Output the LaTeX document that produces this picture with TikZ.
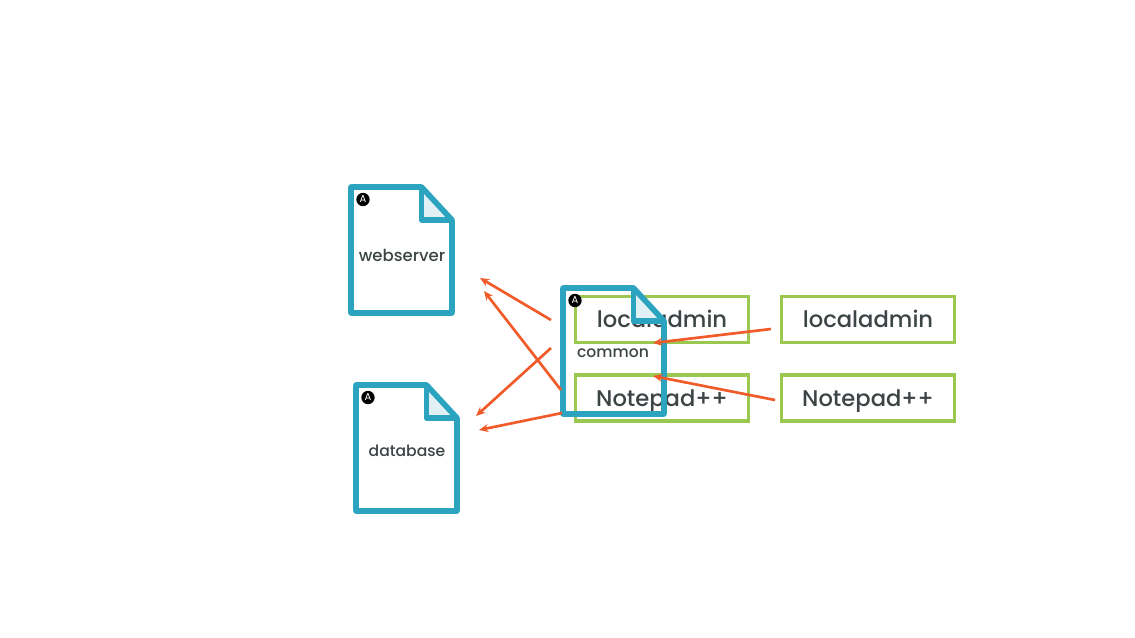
\documentclass[tikz,border=0pt]{standalone}
\usepackage{fontspec}
\setmainfont{Poppins Medium}
\newfontfamily\markfont{Poppins}
\usetikzlibrary{positioning,arrows.meta}
\definecolor{docblue}{HTML}{2CA3BF}
\definecolor{foldblue}{HTML}{E0F0F5}
\definecolor{taskgreen}{HTML}{9BC850}
\definecolor{linkorange}{HTML}{F15A29}
\definecolor{inkgray}{HTML}{3D4446}
\tikzset{
	diagram/.style={x=0.75pt,y=-0.75pt,>={Stealth[length=7pt,width=6pt]}},
	task/.style={draw=taskgreen,line width=2.3pt,minimum width=129.5pt,minimum height=34.5pt,inner sep=0pt,text=inkgray,text height=12pt,text depth=0pt,font=\fontsize{17}{20}\selectfont},
	link/.style={->,draw=linkorange,line width=2pt},
	badge/.style={circle,fill=black,text=white,minimum size=10pt,inner sep=0pt,font=\markfont\fontsize{7.5}{8}\selectfont},
	doclabel/.style={text=inkgray,font=\fontsize{11.7}{13}\selectfont},
	playbook/.pic={
		\path[fill=foldblue] (70.5,0) -- (70.5,33) -- (101,33) -- cycle;
		\draw[docblue,line width=4.2pt,line join=round] (0,0) -- (70.5,0) -- (101,33) -- (101,126) -- (0,126) -- cycle;
		\draw[docblue,line width=4.2pt,line join=round] (70.5,0) -- (70.5,33) -- (101,33);
		\node[badge] (-mark) at (12,12.5) {A};
	}
}
\begin{document}
\begin{tikzpicture}[diagram]
	\useasboundingbox (0,0) rectangle (1135,638);
	
	\node[task] (local1) at (662,319.5) {localadmin};
	\node[task] (local2) at (868,319.5) {localadmin};
	\node[task] (note1) at (662,398) {Notepad++};
	\node[task] (note2) at (868,398) {Notepad++};
	
	\pic (webserver) at (351,187) {playbook};
	\pic (database) at (356,385) {playbook};
	\pic (common) at (563,288) {playbook};
	\node[doclabel,font=\fontsize{12.4}{13}\selectfont] (weblabel) at (402,255.5) {webserver};
	\node[doclabel] (dblabel) at (407,450.5) {database};
	\node[doclabel] (commonlabel) at (613,353.5) {common};
	
	\coordinate (w1) at (551,320);
	\coordinate (w2) at (480,278);
	\coordinate (w3) at (561,390);
	\coordinate (w4) at (484,291);
	\coordinate (d1) at (551,348);
	\coordinate (d2) at (476,416);
	\coordinate (d3) at (562,413);
	\coordinate (d4) at (479,430);
	\coordinate (c1) at (771,329);
	\coordinate (c2) at (653,343);
	\coordinate (c3) at (775,400);
	\coordinate (c4) at (653,376);
	
	\draw[link] (w1) -- (w2);
	\draw[link] (w3) -- (w4);
	\draw[link] (d1) -- (d2);
	\draw[link] (d3) -- (d4);
	\draw[link] (c1) -- (c2);
	\draw[link] (c3) -- (c4);
\end{tikzpicture}
\end{document}
